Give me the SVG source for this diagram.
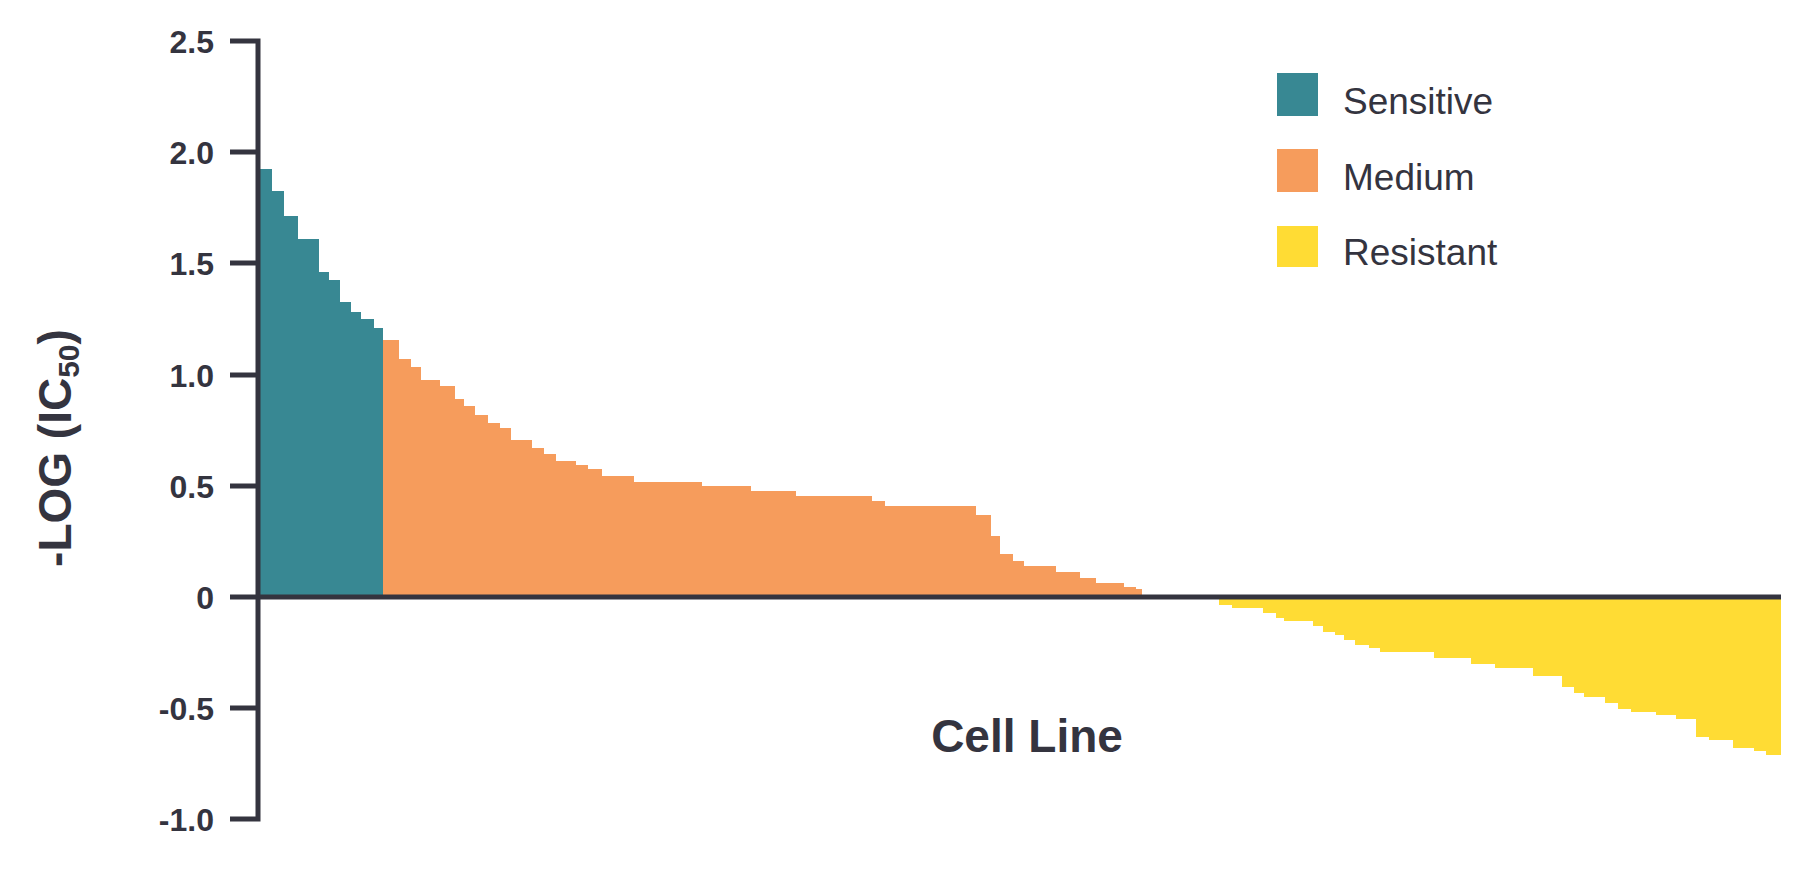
<svg xmlns="http://www.w3.org/2000/svg" width="1800" height="891" viewBox="0 0 1800 891">
<style>
.ax{stroke:#34343f;stroke-width:5;fill:none}
.tk{font-family:"Liberation Sans",Arial,sans-serif;font-weight:bold;font-size:32px;fill:#34343f;text-anchor:end}
.lg{font-family:"Liberation Sans",Arial,sans-serif;font-size:37px;fill:#34343f}
.tt{font-family:"Liberation Sans",Arial,sans-serif;font-weight:bold;font-size:46px;fill:#34343f;text-anchor:middle}
</style>
<rect width="1800" height="891" fill="#fff"/>
<g id="bars">
<path fill="#388893" d="M260,597 V169 H272 V191 H284 V216 H298 V239 H319 V272 H329 V280 H340 V302 H351 V312 H361 V319 H374 V328 H383 V597 Z"/>
<path fill="#F69C5C" d="M383,597 V340 H399 V359 H411 V367 H421 V380 H440 V386 H455 V399 H464 V406 H475 V415 H488 V423 H500 V428 H511 V440 H532 V448 H544 V454 H556 V461 H576 V465 H588 V469 H602 V476 H634 V482 H702 V486 H751 V491 H796 V496 H872 V501 H885 V506 H976 V515 H991 V536 H1000 V554 H1013 V561 H1024 V566 H1056 V572 H1080 V578 H1096 V583 H1124 V587 H1136 V589 H1142 V597 Z"/>
<path fill="#FFDC34" d="M1219,597 V605 H1232 V608 H1263 V613 H1276 V618 H1284 V621 H1313 V626 H1323 V632 H1335 V635 H1344 V640 H1355 V645 H1369 V648 H1380 V652 H1434 V658 H1471 V664 H1495 V668 H1533 V676 H1562 V687 H1574 V693 H1584 V697 H1605 V703 H1618 V709 H1631 V712 H1656 V715 H1676 V719 H1696 V737 H1709 V740 H1733 V748 H1754 V751 H1766 V755 H1781 V597 Z"/>
</g>
<g id="axes">
<path class="ax" d="M230,41 H258 V819 H230 M230,152 H258 M230,263 H258 M230,375 H258 M230,486 H258 M230,597 H1781 M230,708 H258"/>
<text class="tk" x="214" y="53">2.5</text>
<text class="tk" x="214" y="164">2.0</text>
<text class="tk" x="214" y="275">1.5</text>
<text class="tk" x="214" y="387">1.0</text>
<text class="tk" x="214" y="498">0.5</text>
<text class="tk" x="214" y="609">0</text>
<text class="tk" x="214" y="720">-0.5</text>
<text class="tk" x="214" y="831">-1.0</text>
<text class="tt" transform="translate(71,448) rotate(-90)">-LOG (IC<tspan font-size="30" dy="8">50</tspan><tspan dy="-8">)</tspan></text>
<text class="tt" x="1027" y="752">Cell Line</text>
</g>
<g id="legend">
<rect x="1277" y="73" width="41" height="43" fill="#388893"/>
<rect x="1277" y="149" width="41" height="43" fill="#F69C5C"/>
<rect x="1277" y="226" width="41" height="41" fill="#FFDC34"/>
<text class="lg" x="1343" y="114">Sensitive</text>
<text class="lg" x="1343" y="190">Medium</text>
<text class="lg" x="1343" y="265">Resistant</text>
</g>
</svg>
